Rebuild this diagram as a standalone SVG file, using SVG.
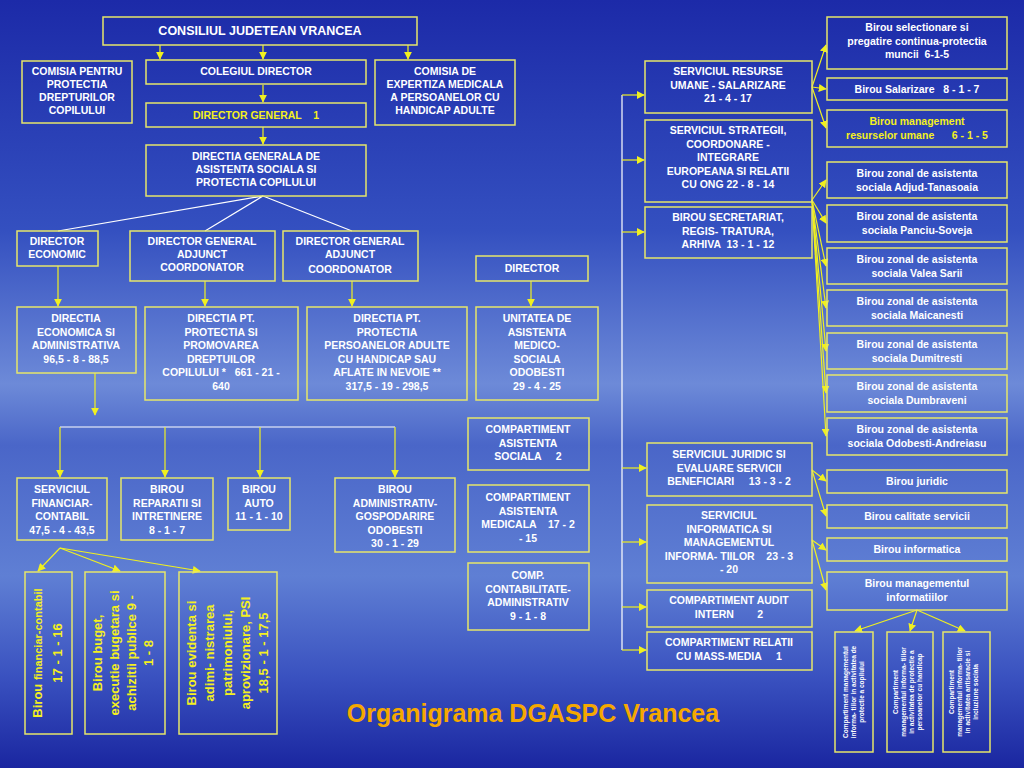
<svg xmlns="http://www.w3.org/2000/svg" width="1024" height="768" viewBox="0 0 1024 768">
<defs>
<linearGradient id="bg" x1="0" y1="0" x2="0" y2="1">
<stop offset="0" stop-color="#1c2aa8"/>
<stop offset="0.3" stop-color="#3450c0"/>
<stop offset="0.5" stop-color="#6d8ad8"/>
<stop offset="0.58" stop-color="#4a66c8"/>
<stop offset="0.75" stop-color="#5f7fd4"/>
<stop offset="0.88" stop-color="#3a52c0"/>
<stop offset="1" stop-color="#1a26a0"/>
</linearGradient>
<marker id="a" viewBox="0 0 10 10" refX="9" refY="5" markerWidth="8" markerHeight="8" markerUnits="userSpaceOnUse" orient="auto"><path d="M0,0L10,5L0,10z" fill="#f0f020"/></marker>
<style>
.b{fill:none;stroke:#e6e66a;stroke-width:1.5}
.t{font-family:"Liberation Sans",Arial,sans-serif;font-weight:bold;font-size:10.5px;fill:#fff;text-anchor:middle;white-space:pre}
.y{fill:#f4f020}
.r{font-family:"Liberation Sans",Arial,sans-serif;font-weight:bold;font-size:13px;fill:#f4f020;text-anchor:middle}
.s{font-family:"Liberation Sans",Arial,sans-serif;font-weight:bold;font-size:6.5px;fill:#fff;text-anchor:middle}
.w{stroke:#fff;stroke-width:1.2;fill:none}
.ar line,line.ar{stroke:#f0f020;stroke-width:1.2;marker-end:url(#a)}
</style>
</defs>
<rect width="1024" height="768" fill="url(#bg)"/>
<g id="connectors">
<path class="w" d="M263,196L58,231M263,196L205,231M263,196L352,231M60,427H395M622,95V650"/>
<g class="ar">
<line x1="160" y1="45" x2="160" y2="59"/><line x1="263" y1="45" x2="263" y2="59"/><line x1="408" y1="45" x2="408" y2="59"/>
<line x1="263" y1="85" x2="263" y2="102"/><line x1="263" y1="127" x2="263" y2="144"/>
<line x1="58" y1="266" x2="58" y2="306"/><line x1="205" y1="281" x2="205" y2="306"/><line x1="352" y1="281" x2="352" y2="306"/><line x1="531" y1="281" x2="531" y2="306"/>
<line x1="95" y1="373" x2="95" y2="415"/>
<line x1="60" y1="427" x2="60" y2="477"/><line x1="165" y1="427" x2="165" y2="477"/><line x1="260" y1="427" x2="260" y2="477"/><line x1="395" y1="427" x2="395" y2="477"/>
<line x1="60" y1="548" x2="38" y2="571"/><line x1="60" y1="548" x2="120" y2="571"/><line x1="60" y1="548" x2="200" y2="571"/>
<line x1="622" y1="95" x2="644" y2="95"/><line x1="622" y1="160" x2="644" y2="160"/><line x1="622" y1="232" x2="644" y2="232"/><line x1="622" y1="468" x2="646" y2="468"/><line x1="622" y1="542" x2="646" y2="542"/><line x1="622" y1="607" x2="646" y2="607"/><line x1="622" y1="650" x2="646" y2="650"/>
<line x1="812" y1="87" x2="826" y2="45"/><line x1="812" y1="87" x2="826" y2="89"/><line x1="812" y1="87" x2="826" y2="128"/>
<line x1="812" y1="200" x2="826" y2="180"/><line x1="812" y1="200" x2="826" y2="223"/><line x1="812" y1="200" x2="826" y2="266"/><line x1="812" y1="200" x2="826" y2="308"/><line x1="812" y1="200" x2="826" y2="351"/><line x1="812" y1="200" x2="826" y2="393"/><line x1="812" y1="200" x2="826" y2="436"/>
<line x1="812" y1="470" x2="826" y2="481"/><line x1="812" y1="470" x2="826" y2="516"/><line x1="812" y1="540" x2="826" y2="550"/><line x1="812" y1="540" x2="826" y2="590"/>
<line x1="917" y1="610" x2="855" y2="631"/><line x1="917" y1="610" x2="910" y2="631"/><line x1="917" y1="610" x2="965" y2="631"/>
</g>
</g>
<g id="n1"><rect class="b" x="103" y="17" width="314" height="28"/><text class="t" x="260" y="35" style="font-size:12.5px">CONSILIUL JUDETEAN VRANCEA</text></g>
<g id="n2"><rect class="b" x="22" y="61" width="110" height="62"/><text class="t" x="77" y="75">COMISIA PENTRU<tspan x="77" dy="13">PROTECTIA</tspan><tspan x="77" dy="13">DREPTURILOR</tspan><tspan x="77" dy="13">COPILULUI</tspan></text></g>
<g id="n3"><rect class="b" x="146" y="60" width="220" height="24"/><text class="t" x="256" y="75">COLEGIUL DIRECTOR</text></g>
<g id="n4"><rect class="b" x="375" y="60" width="140" height="65"/><text class="t" x="445" y="75">COMISIA DE<tspan x="445" dy="13">EXPERTIZA MEDICALA</tspan><tspan x="445" dy="13">A PERSOANELOR CU</tspan><tspan x="445" dy="13">HANDICAP ADULTE</tspan></text></g>
<g id="n5"><rect class="b" x="146" y="103" width="220" height="24"/><text class="t y" x="256" y="119">DIRECTOR GENERAL    1</text></g>
<g id="n6"><rect class="b" x="146" y="145" width="220" height="51"/><text class="t" x="256" y="160">DIRECTIA GENERALA DE<tspan x="256" dy="13">ASISTENTA SOCIALA SI</tspan><tspan x="256" dy="13">PROTECTIA COPILULUI</tspan></text></g>
<g id="n7"><rect class="b" x="17" y="231" width="81" height="35"/><text class="t" x="57" y="245">DIRECTOR<tspan x="57" dy="13">ECONOMIC</tspan></text></g>
<g id="n8"><rect class="b" x="130" y="231" width="145" height="50"/><text class="t" x="202" y="245">DIRECTOR GENERAL<tspan x="202" dy="13">ADJUNCT</tspan><tspan x="202" dy="13">COORDONATOR</tspan></text></g>
<g id="n9"><rect class="b" x="283" y="231" width="135" height="50"/><text class="t" x="350" y="245">DIRECTOR GENERAL<tspan x="350" dy="13">ADJUNCT</tspan><tspan x="350" dy="15">COORDONATOR</tspan></text></g>
<g id="n10"><rect class="b" x="476" y="256" width="112" height="25"/><text class="t" x="532" y="272">DIRECTOR</text></g>
<g id="n11"><rect class="b" x="17" y="307" width="119" height="66"/><text class="t" x="76" y="322">DIRECTIA<tspan x="76" dy="13.5">ECONOMICA SI</tspan><tspan x="76" dy="13.5">ADMINISTRATIVA</tspan><tspan x="76" dy="13.5">96,5 - 8 - 88,5</tspan></text></g>
<g id="n12"><rect class="b" x="145" y="307" width="153" height="93"/><text class="t" x="221" y="322">DIRECTIA PT.<tspan x="221" dy="13.5">PROTECTIA SI</tspan><tspan x="221" dy="13.5">PROMOVAREA</tspan><tspan x="221" dy="13.5">DREPTUILOR</tspan><tspan x="221" dy="13.5">COPILULUI *   661 - 21 -</tspan><tspan x="221" dy="13.5">640</tspan></text></g>
<g id="n13"><rect class="b" x="307" y="307" width="160" height="93"/><text class="t" x="387" y="322">DIRECTIA PT.<tspan x="387" dy="13.5">PROTECTIA</tspan><tspan x="387" dy="13.5">PERSOANELOR ADULTE</tspan><tspan x="387" dy="13.5">CU HANDICAP SAU</tspan><tspan x="387" dy="13.5">AFLATE IN NEVOIE **</tspan><tspan x="387" dy="13.5">317,5 - 19 - 298,5</tspan></text></g>
<g id="n14"><rect class="b" x="476" y="307" width="122" height="93"/><text class="t" x="537" y="322">UNITATEA DE<tspan x="537" dy="13.5">ASISTENTA</tspan><tspan x="537" dy="13.5">MEDICO-</tspan><tspan x="537" dy="13.5">SOCIALA</tspan><tspan x="537" dy="13.5">ODOBESTI</tspan><tspan x="537" dy="13.5">29 - 4 - 25</tspan></text></g>
<g id="n15"><rect class="b" x="468" y="418" width="121" height="52"/><text class="t" x="528" y="433">COMPARTIMENT<tspan x="528" dy="13.5">ASISTENTA</tspan><tspan x="528" dy="13.5">SOCIALA     2</tspan></text></g>
<g id="n16"><rect class="b" x="468" y="485" width="121" height="67"/><text class="t" x="528" y="501">COMPARTIMENT<tspan x="528" dy="13.5">ASISTENTA</tspan><tspan x="528" dy="13.5">MEDICALA    17 - 2</tspan><tspan x="528" dy="13.5">- 15</tspan></text></g>
<g id="n17"><rect class="b" x="468" y="563" width="121" height="67"/><text class="t" x="528" y="579">COMP.<tspan x="528" dy="13.5">CONTABILITATE-</tspan><tspan x="528" dy="13.5">ADMINISTRATIV</tspan><tspan x="528" dy="13.5">9 - 1 - 8</tspan></text></g>
<g id="n18"><rect class="b" x="17" y="478" width="90" height="62"/><text class="t" x="62" y="493">SERVICIUL<tspan x="62" dy="13.5">FINANCIAR-</tspan><tspan x="62" dy="13.5">CONTABIL</tspan><tspan x="62" dy="13.5">47,5 - 4 - 43,5</tspan></text></g>
<g id="n19"><rect class="b" x="121" y="478" width="92" height="62"/><text class="t" x="167" y="493">BIROU<tspan x="167" dy="13.5">REPARATII SI</tspan><tspan x="167" dy="13.5">INTRETINERE</tspan><tspan x="167" dy="13.5">8 - 1 - 7</tspan></text></g>
<g id="n20"><rect class="b" x="228" y="478" width="62" height="52"/><text class="t" x="259" y="493">BIROU<tspan x="259" dy="13.5">AUTO</tspan><tspan x="259" dy="13.5">11 - 1 - 10</tspan></text></g>
<g id="n21"><rect class="b" x="335" y="478" width="120" height="74"/><text class="t" x="395" y="493">BIROU<tspan x="395" dy="13.5">ADMINISTRATIV-</tspan><tspan x="395" dy="13.5">GOSPODARIRE</tspan><tspan x="395" dy="13.5">ODOBESTI</tspan><tspan x="395" dy="13.5">30 - 1 - 29</tspan></text></g>
<g id="n22"><rect class="b" x="25" y="572" width="47" height="162"/><text class="r" transform="translate(48,653) rotate(-90)"><tspan x="0" y="-6">Birou <tspan style="font-size:11px">financiar-contabil</tspan></tspan><tspan x="0" y="14">17 - 1 - 16</tspan></text></g>
<g id="n23"><rect class="b" x="85" y="572" width="80" height="162"/><text class="r" transform="translate(125,653) rotate(-90)"><tspan x="0" y="-23">Birou buget,</tspan><tspan x="0" y="-6">executie bugetara si</tspan><tspan x="0" y="11">achizitii publice   9 -</tspan><tspan x="0" y="28">1 - 8</tspan></text></g>
<g id="n24"><rect class="b" x="179" y="572" width="98" height="162"/><text class="r" transform="translate(228,653) rotate(-90)"><tspan x="0" y="-32">Birou evidenta si</tspan><tspan x="0" y="-14">adimi- nistrarea</tspan><tspan x="0" y="4">patrimoniului,</tspan><tspan x="0" y="22">aprovizionare, PSI</tspan><tspan x="0" y="40">18,5 - 1 - 17,5</tspan></text></g>
<g id="n25"><rect class="b" x="645" y="61" width="167" height="52"/><text class="t" x="728" y="75">SERVICIUL RESURSE<tspan x="728" dy="13.5">UMANE - SALARIZARE</tspan><tspan x="728" dy="13.5">21 - 4 - 17</tspan></text></g>
<g id="n26"><rect class="b" x="645" y="120" width="167" height="82"/><text class="t" x="728" y="134">SERVICIUL STRATEGII,<tspan x="728" dy="13.5">COORDONARE -</tspan><tspan x="728" dy="13.5">INTEGRARE</tspan><tspan x="728" dy="13.5">EUROPEANA SI RELATII</tspan><tspan x="728" dy="13.5">CU ONG 22 - 8 - 14</tspan></text></g>
<g id="n27"><rect class="b" x="645" y="207" width="167" height="51"/><text class="t" x="728" y="221">BIROU SECRETARIAT,<tspan x="728" dy="13.5">REGIS- TRATURA,</tspan><tspan x="728" dy="13.5">ARHIVA  13 - 1 - 12</tspan></text></g>
<g id="n28"><rect class="b" x="647" y="443" width="165" height="53"/><text class="t" x="729" y="458">SERVICIUL JURIDIC SI<tspan x="729" dy="13.5">EVALUARE SERVICII</tspan><tspan x="729" dy="13.5">BENEFICIARI     13 - 3 - 2</tspan></text></g>
<g id="n29"><rect class="b" x="647" y="505" width="165" height="78"/><text class="t" x="729" y="519">SERVICIUL<tspan x="729" dy="13.5">INFORMATICA SI</tspan><tspan x="729" dy="13.5">MANAGEMENTUL</tspan><tspan x="729" dy="13.5">INFORMA- TIILOR    23 - 3</tspan><tspan x="729" dy="13.5">- 20</tspan></text></g>
<g id="n30"><rect class="b" x="647" y="590" width="165" height="37"/><text class="t" x="729" y="604">COMPARTIMENT AUDIT<tspan x="729" dy="13.5">INTERN        2</tspan></text></g>
<g id="n31"><rect class="b" x="647" y="632" width="165" height="38"/><text class="t" x="729" y="646">COMPARTIMENT RELATII<tspan x="729" dy="13.5">CU MASS-MEDIA     1</tspan></text></g>
<g id="n32"><rect class="b" x="827" y="17" width="180" height="52"/><text class="t" x="917" y="31">Birou selectionare si<tspan x="917" dy="13.5">pregatire continua-protectia</tspan><tspan x="917" dy="13.5">muncii  6-1-5</tspan></text></g>
<g id="n33"><rect class="b" x="827" y="78" width="180" height="22"/><text class="t" x="917" y="93">Birou Salarizare   8 - 1 - 7</text></g>
<g id="n34"><rect class="b" x="827" y="110" width="180" height="37"/><text class="t y" x="917" y="125">Birou management<tspan x="917" dy="13.5">resurselor umane      6 - 1 - 5</tspan></text></g>
<g id="n35"><rect class="b" x="827" y="162" width="180" height="36"/><text class="t" x="917" y="177">Birou zonal de asistenta<tspan x="917" dy="13.5">sociala Adjud-Tanasoaia</tspan></text></g>
<g id="n36"><rect class="b" x="827" y="205" width="180" height="37"/><text class="t" x="917" y="220">Birou zonal de asistenta<tspan x="917" dy="13.5">sociala Panciu-Soveja</tspan></text></g>
<g id="n37"><rect class="b" x="827" y="248" width="180" height="36"/><text class="t" x="917" y="263">Birou zonal de asistenta<tspan x="917" dy="13.5">sociala Valea Sarii</tspan></text></g>
<g id="n38"><rect class="b" x="827" y="290" width="180" height="36"/><text class="t" x="917" y="305">Birou zonal de asistenta<tspan x="917" dy="13.5">sociala Maicanesti</tspan></text></g>
<g id="n39"><rect class="b" x="827" y="333" width="180" height="36"/><text class="t" x="917" y="348">Birou zonal de asistenta<tspan x="917" dy="13.5">sociala Dumitresti</tspan></text></g>
<g id="n40"><rect class="b" x="827" y="375" width="180" height="37"/><text class="t" x="917" y="390">Birou zonal de asistenta<tspan x="917" dy="13.5">sociala Dumbraveni</tspan></text></g>
<g id="n41"><rect class="b" x="827" y="418" width="180" height="37"/><text class="t" x="917" y="433">Birou zonal de asistenta<tspan x="917" dy="13.5">sociala Odobesti-Andreiasu</tspan></text></g>
<g id="n42"><rect class="b" x="827" y="470" width="180" height="23"/><text class="t" x="917" y="485">Birou juridic</text></g>
<g id="n43"><rect class="b" x="827" y="505" width="180" height="23"/><text class="t" x="917" y="520">Birou calitate servicii</text></g>
<g id="n44"><rect class="b" x="827" y="538" width="180" height="23"/><text class="t" x="917" y="553">Birou informatica</text></g>
<g id="n45"><rect class="b" x="827" y="572" width="180" height="38"/><text class="t" x="917" y="587">Birou managementul<tspan x="917" dy="13.5">informatiilor</tspan></text></g>
<g id="n46"><rect class="b" x="835" y="632" width="38" height="120"/><text class="s" transform="translate(854,692) rotate(-90)"><tspan x="0" y="-6">Compartiment managementul</tspan><tspan x="0" y="2">informa- tiilor in activitatea de</tspan><tspan x="0" y="10">protectie a copilului</tspan></text></g>
<g id="n47"><rect class="b" x="887" y="632" width="46" height="120"/><text class="s" transform="translate(910,692) rotate(-90)"><tspan x="0" y="-12">Compartiment</tspan><tspan x="0" y="-4">managementul informa- tiilor</tspan><tspan x="0" y="4">in activitatea de protectie a</tspan><tspan x="0" y="12">persoanelor cu handicap</tspan></text></g>
<g id="n48"><rect class="b" x="943" y="632" width="47" height="120"/><text class="s" transform="translate(966,692) rotate(-90)"><tspan x="0" y="-12">Compartiment</tspan><tspan x="0" y="-4">managementul informa- tiilor</tspan><tspan x="0" y="4">in activitatea antisaracie si</tspan><tspan x="0" y="12">incluziune sociala</tspan></text></g>
<text x="533" y="722" style="font-family:'Liberation Sans',Arial,sans-serif;font-weight:bold;font-size:25px;fill:#f5a800;text-anchor:middle">Organigrama DGASPC Vrancea</text>
</svg>
